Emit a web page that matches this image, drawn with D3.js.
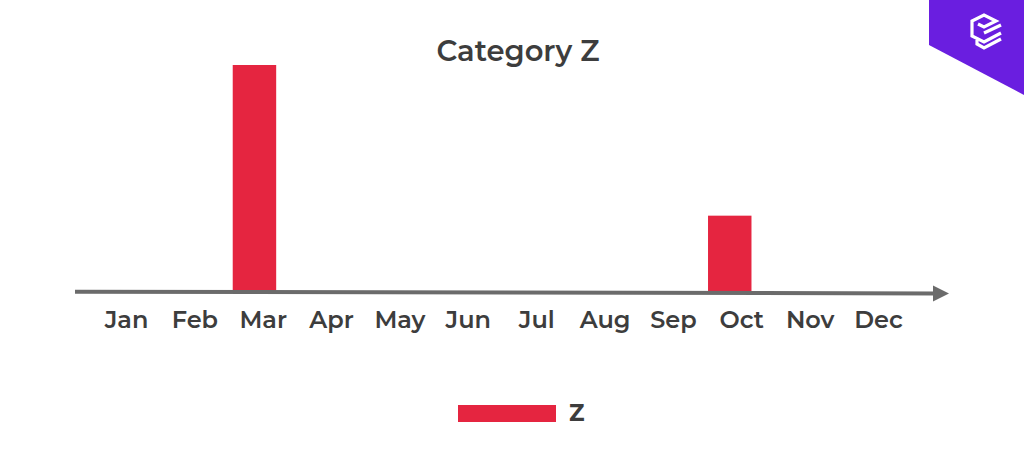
<!DOCTYPE html>
<html><head><meta charset="utf-8">
<script src="https://cdn.jsdelivr.net/npm/d3@7"></script>
<style>body{margin:0;background:#fff}svg{display:block}</style>
</head><body>
<svg id="c" width="1024" height="464"></svg>
<script>
const months = ["Jan","Feb","Mar","Apr","May","Jun","Jul","Aug","Sep","Oct","Nov","Dec"];
const valuesZ = [0,0,30,0,0,0,0,0,0,10,0,0];
const seriesName = "Z";
const title = "Category Z";

const svg = d3.select("#c");
const font = "Montserrat, 'Open Sans', sans-serif";
const barColor = "#e52540";
const textColor = "#3d3d3d";

const x = d3.scaleBand().domain(months).range([84.7, 899.5]).paddingInner(0.36).paddingOuter(0.18);
const xl = d3.scalePoint().domain(months).range([126, 878]);
const y = d3.scaleLinear().domain([0, 30]).range([291, 65]);

// bars
svg.append("g").selectAll("rect").data(months.map((m,i)=>({m, v: valuesZ[i]})).filter(d=>d.v>0))
  .join("rect")
  .attr("x", d=>x(d.m)).attr("width", x.bandwidth())
  .attr("y", d=>y(d.v)).attr("height", d=>y(0)-y(d.v))
  .attr("fill", barColor);

// axis line with arrow
svg.append("line").attr("x1",75).attr("y1",291.7).attr("x2",937).attr("y2",293.4)
  .attr("stroke","#6b6b6b").attr("stroke-width",4);
svg.append("path").attr("d","M933,285.5 L949,293.5 L933,301.5 Z").attr("fill","#6b6b6b");

// labels via axis
const ax = svg.append("g").attr("transform","translate(0,301)")
  .call(d3.axisBottom(xl).tickSize(0).tickPadding(10));
ax.select(".domain").remove();
ax.selectAll("text").attr("font-family",font).attr("font-size",24).attr("font-weight",600)
  .attr("fill",textColor);

// title
svg.append("text").attr("x",518).attr("y",61).attr("text-anchor","middle")
  .attr("font-family",font).attr("font-size",29).attr("font-weight",600).attr("fill",textColor)
  .text(title);

// legend
svg.append("rect").attr("x",458).attr("y",405).attr("width",98).attr("height",17).attr("fill",barColor);
svg.append("text").attr("x",569).attr("y",421).attr("font-family",font).attr("font-size",23)
  .attr("font-weight",700).attr("fill",textColor).text(seriesName);

// logo
svg.append("path").attr("d","M929,0 L1024,0 L1024,95 L929,45 Z").attr("fill","#6a1ee0");
const lg = svg.append("g").attr("fill","none").attr("stroke","#fff").attr("stroke-width",3.2).attr("stroke-linejoin","miter");
lg.append("path").attr("d","M972,28 L972,21 L984,15 L996,21 L984,27 L978,24");
lg.append("path").attr("d","M972,28 L972,36 L984,42 L1001,33");
lg.append("path").attr("d","M977,40 L977,44 L984,48 L1001,39");
lg.append("path").attr("d","M984,33 L1001,25");
</script>
</body></html>
